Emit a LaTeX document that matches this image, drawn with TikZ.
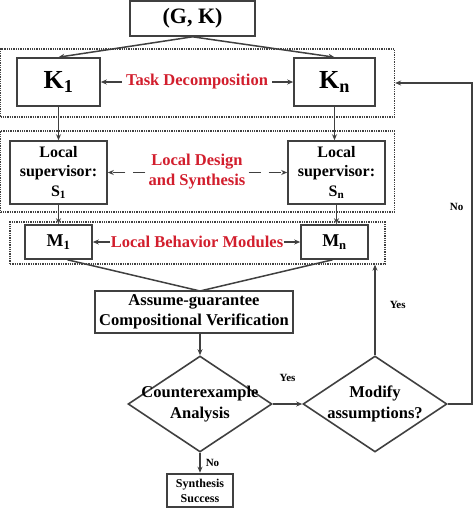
\documentclass[tikz,border=0pt]{standalone}
\usepackage{fontspec}
\setmainfont{Liberation Serif}
\usetikzlibrary{arrows.meta,shapes.geometric,calc}
\definecolor{ln}{HTML}{404040}
\definecolor{rd}{HTML}{D21E2D}
\begin{document}
\begin{tikzpicture}[x=1pt,y=-1pt,
  box/.style={draw=ln,line width=1.6pt,rectangle,inner sep=0pt,align=center,font=\bfseries},
  grp/.style={draw=ln,line width=1.3pt,densely dotted,rectangle,inner sep=0pt},
  diam/.style={draw=ln,line width=1.6pt,diamond,inner sep=0pt},
  txt/.style={align=center,font=\bfseries,inner sep=0pt},
  red/.style={text=rd,align=center,font=\bfseries\fontsize{16.5}{20}\selectfont},
  arr/.style={draw=ln,line width=1.5pt,-{Stealth[length=6pt,width=5pt]}},
  lnk/.style={draw=ln,line width=1.5pt},
  lab/.style={font=\bfseries\fontsize{11}{13}\selectfont,inner sep=0pt}]
\useasboundingbox (0,0) rectangle (474,509);
% group boxes
\node[grp,minimum width=394pt,minimum height=68pt] (g1) at (197.5,83) {};
\node[grp,minimum width=394pt,minimum height=81pt] (g2) at (197.5,171.5) {};
\node[grp,minimum width=375pt,minimum height=42pt] (g3) at (197.5,243) {};
% top
\node[box,minimum width=125pt,minimum height=35pt,font=\bfseries\fontsize{22}{24}\selectfont] (gk) at (192.5,18.5) {(G, K)};
\node[box,minimum width=83pt,minimum height=48pt,font=\bfseries\fontsize{26}{28}\selectfont] (k1) at (58.5,82) {K\textsubscript{1}};
\node[box,minimum width=81pt,minimum height=48pt,font=\bfseries\fontsize{26}{28}\selectfont] (kn) at (334.5,82) {K\textsubscript{n}};
\node[red,inner sep=4pt] (td) at (197,82) {Task Decomposition};
% supervisors
\node[box,minimum width=97pt,minimum height=63pt,font=\bfseries\fontsize{16}{19.5}\selectfont] (s1) at (58.5,172.5) {Local\\supervisor:\\S\textsubscript{1}};
\node[box,minimum width=97pt,minimum height=63pt,font=\bfseries\fontsize{16}{19.5}\selectfont] (sn) at (336.5,172.5) {Local\\supervisor:\\S\textsubscript{n}};
\node[red,inner sep=3pt] (lds) at (197,172) {Local Design\\and Synthesis};
% modules
\node[box,minimum width=67pt,minimum height=34pt,font=\bfseries\fontsize{18}{20}\selectfont] (m1) at (58.5,242) {M\textsubscript{1}};
\node[box,minimum width=67pt,minimum height=34pt,font=\bfseries\fontsize{18}{20}\selectfont] (mn) at (334.5,242) {M\textsubscript{n}};
\node[red,inner sep=0.5pt] (lbm) at (197,242) {Local Behavior Modules};
% verification
\node[box,minimum width=198pt,minimum height=42pt,font=\bfseries\fontsize{16.5}{19.5}\selectfont] (ag) at (194,312) {Assume-guarantee\\Compositional Verification};
\coordinate (join) at (200,291);
\node[diam,minimum width=144pt,minimum height=96pt] (ce) at (200,404) {};
\node[txt,font=\bfseries\fontsize{16.5}{21}\selectfont] (cet) at (ce) {Counterexample\\Analysis};
\node[diam,minimum width=144pt,minimum height=96pt] (ma) at (375,404) {};
\node[txt,font=\bfseries\fontsize{16.5}{21}\selectfont] (mat) at (ma) {Modify\\assumptions?};
\node[box,line width=2.6pt,minimum width=66pt,minimum height=33pt,font=\bfseries\fontsize{12}{15}\selectfont] (ss) at (200,490.5) {Synthesis\\Success};
\coordinate (rt) at (472,0);
% connectors
\draw[arr] (gk.south) -- (k1.north);
\draw[arr] (gk.south) -- (kn.north);
\draw[arr] (td.west) -- (k1.east);
\draw[arr] (td.east) -- (kn.west);
\draw[arr] (k1.south) -- (s1.north);
\draw[arr] (kn.south) -- (kn.south |- sn.north);
\draw[arr,dash pattern=on 12pt off 8pt] (lds.west |- s1.east) -- (s1.east);
\draw[arr,dash pattern=on 12pt off 8pt] (lds.east |- sn.west) -- (sn.west);
\draw[arr] (s1.south) -- (s1.south |- m1.north);
\draw[arr] (sn.south) -- (sn.south |- mn.north);
\draw[arr] (lbm.west) -- (m1.east);
\draw[arr] (lbm.east) -- (mn.west);
\draw[lnk] ([xshift=9pt]m1.south) -- (join);
\draw[lnk] ([xshift=-2pt]mn.south) -- (join);
\draw[arr] (ag.south -| ce.north) -- (ce.north);
\draw[arr] (ce.east) -- node[lab,above=22pt] {Yes} (ma.west);
\draw[arr] (ma.north) -- node[lab,right=14pt,pos=0.55] {Yes} (ma.north |- g3.south);
\draw[arr] (ma.east) -- (ma.east -| rt) |- node[lab,pos=0.307,left=8pt] {No} (g1.east);
\draw[arr] (ce.south) -- node[lab,right=5pt] {No} (ss.north);
\end{tikzpicture}
\end{document}
